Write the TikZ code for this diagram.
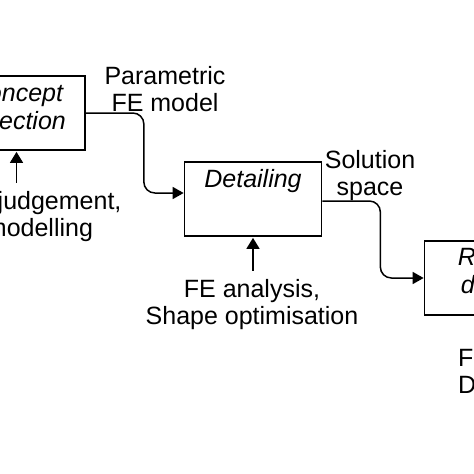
\documentclass[tikz,border=0pt]{standalone}
\usepackage{fontspec}
\setmainfont{Liberation Sans}
\usetikzlibrary{arrows.meta}
\begin{document}
\begin{tikzpicture}[x=1pt,y=-1pt,
  box/.style={draw,line width=1.7pt,minimum width=137pt,minimum height=74pt,inner sep=0pt},
  txt/.style={font=\fontsize{25}{27}\selectfont,align=center,anchor=base,inner sep=0pt},
  itxt/.style={txt,font=\fontsize{25}{28}\selectfont\itshape},
  conn/.style={line width=1.5pt,rounded corners=11pt,-{Triangle[length=11pt,width=12pt]}},
  uparrow/.style={line width=1.5pt,-{Triangle[length=11pt,width=13pt]},shorten <=8pt,shorten >=1pt}]
\useasboundingbox[fill=white] (0,0) rectangle (474,474);
% boxes
\node[box] (b1) at (16.5,113) {};
\node[box] (b2) at (253,199) {};
\node[box] (b3) at (493,278) {};
% box texts (base anchor = baseline of last line)
\node[itxt] (c1) at (16.5,129) {Concept\\selection};
\node[itxt] (c2) at (253,187) {Detailing};
\node[itxt] (c3) at (497.6,293) {Robust\\design};
% labels
\node[txt] (l1) at (165,111) {Parametric\\FE model};
\node[txt] (l2) at (370,195) {Solution\\space};
\node[txt] (t1) at (20,236) {Expert judgement,\\FE modelling};
\node[txt] (t2) at (252,324) {FE analysis,\\Shape optimisation};
\node[txt,align=left,anchor=base west] (t3) at (458,393) {FE analysis,\\DOE};
% connectors
\draw[conn] (b1.east) -- ++(58,0) |- ([yshift=6pt]b2.west);
\draw[conn] ([yshift=-2pt]b2.east) -- ++(58,0) |- (b3.west);
\draw[uparrow] (b1.south |- t1.north) -- (b1.south);
\draw[uparrow] (b2.south |- t2.north) -- (b2.south);
\end{tikzpicture}
\end{document}
